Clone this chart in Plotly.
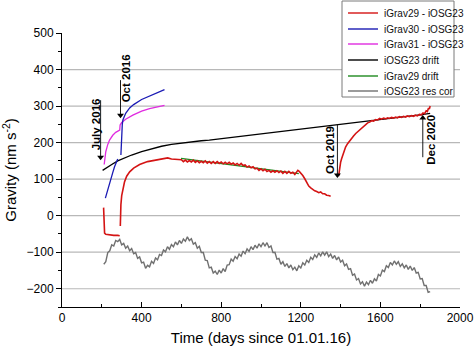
import plotly.graph_objects as go

# ---------------- data ----------------
names = ["iGrav29 - iOSG23", "iGrav30 - iOSG23", "iGrav31 - iOSG23",
         "iOSG23 drift", "iGrav29 drift", "iOSG23 res cor"]
colors = ["#d41414", "#1a1ab4", "#e02be0", "#000000", "#1f8a1f", "#707070"]

# iGrav29 - iOSG23 (three segments, None separates)
red_days = [209, 210, 211, 212, 214, 220, 240, 260, 280, 290, None,
            293, 294, 296, 300, 306, 314, 325, 340, 360, 390, 430, 473, 500, 531, 550, 570, 590,
            600, 610, 620, 630, 640, 650, 660, 670, 680, 690, 700, 710, 720, 730, 740, 750,
            760, 770, 780, 790, 800, 810, 820, 830, 840, 850, 860, 870, 880, 890, 900, 910,
            920, 930, 940, 950, 960, 970, 980, 990, 1000, 1010, 1020, 1030, 1040, 1050, 1060,
            1070, 1080, 1090, 1100, 1110, 1120, 1130, 1140, 1150, 1160, 1170, 1180, 1185, 1192,
            1200, 1210, 1220, 1230, 1240, 1250, 1260, 1270, 1280, 1290, 1300, 1310, 1320, 1330,
            1340, 1350, None,
            1390, 1392, 1395, 1400, 1405, 1410, 1417, 1425, 1435, 1445, 1455, 1465, 1476, 1486,
            1496, 1506, 1516, 1526, 1536, 1546, 1556, 1566, 1576, 1586, 1596, 1606, 1616, 1626,
            1636, 1646, 1656, 1666, 1676, 1686, 1696, 1706, 1716, 1726, 1736, 1746, 1756, 1766,
            1776, 1786, 1796, 1806, 1814, 1822, 1830, 1836, 1842, 1846, 1850]
red_vals = [22, 5, -20, -40, -48, -51, -53, -54, -54, -55, None,
            -28, 0, 30, 55, 75, 92, 108, 120, 130, 140, 148, 153, 156, 158, 155, 154, 152,
            153, 148, 152, 147, 151, 147, 152, 146, 150, 145, 149, 145, 150, 144, 148, 143,
            148, 143, 148, 143, 147, 142, 146, 142, 146, 141, 144, 139, 143, 138, 143, 137,
            139, 133, 136, 131, 134, 128, 130, 124, 128, 123, 127, 121, 124, 119, 123,
            119, 123, 118, 122, 116, 121, 116, 121, 116, 119, 113, 120, 124, 121,
            117, 110, 101, 92, 81, 76, 71, 68, 66, 63, 65, 60, 60, 56,
            55, 53, None,
            108, 118, 132, 146, 156, 165, 178, 188, 197, 205, 212, 218, 225, 230,
            236, 241, 245, 250, 254, 256, 260, 259, 263, 262, 266, 264, 267, 265,
            268, 266, 269, 267, 270, 268, 271, 269, 272, 270, 273, 271, 274, 272,
            275, 273, 277, 276, 281, 279, 287, 285, 295, 292, 300]

# iGrav30 - iOSG23
blue_days = [218, 222, 230, 244, 255, 264, 272, 280, None,
             296, 298, 300, 303, 306, 320, 340, 360, 400, 440, 480, 515]
blue_vals = [48, 56, 75, 99, 118, 134, 146, 155, None,
             166, 200, 230, 250, 262, 280, 295, 304, 318, 327, 337, 345]

# iGrav31 - iOSG23
mag_days = [212, 215, 220, 230, 239, 255, 270, 290, 292, 300, 320, 356, 400, 440, 480, 515]
mag_vals = [140, 157, 175, 195, 207, 220, 228, 234, 248, 255, 264, 275, 286, 293, 298, 302]

# iOSG23 drift
blk_days = [204, 220, 250, 280, 307, 350, 400, 450, 500, 550, 600, 650, 700, 740, 800,
            890, 1000, 1100, 1200, 1300, 1382, 1500, 1600, 1700, 1800, 1850]
blk_vals = [124, 130, 140, 150, 157, 166, 175, 183, 190, 195, 199, 202, 205, 207, 211,
            216, 224, 231, 238, 245, 250, 257, 264, 270, 276, 280]

# iGrav29 drift
grn_days = [598, 1190]
grn_vals = [157, 115]

# iOSG23 res cor
gray_days = [210, 220, 230, 240, 250, 260, 270, 280, 290, 300, 310, 320, 330, 340, 350,
             360, 370, 380, 390, 400, 410, 420, 430, 440, 450, 460, 470, 480, 490, 500,
             510, 520, 530, 540, 550, 560, 570, 580, 590, 600, 610, 620, 630, 640, 650,
             660, 670, 680, 690, 700, 710, 720, 730, 740, 750, 760, 770, 780, 790, 800,
             810, 820, 830, 840, 850, 860, 870, 880, 890, 900, 910, 920, 930, 940, 950,
             960, 970, 980, 990, 1000, 1010, 1020, 1030, 1040, 1050, 1060, 1070, 1080, 1090,
             1100, 1110, 1120, 1130, 1140, 1150, 1160, 1170, 1180, 1190, 1200, 1210, 1220,
             1230, 1240, 1250, 1260, 1270, 1280, 1290, 1300, 1310, 1320, 1330, 1340, 1350,
             1360, 1370, 1380, 1390, 1400, 1410, 1420, 1430, 1440, 1450, 1460, 1470, 1480,
             1490, 1500, 1510, 1520, 1530, 1540, 1550, 1560, 1570, 1580, 1590, 1600, 1610,
             1620, 1630, 1640, 1650, 1660, 1670, 1680, 1690, 1700, 1710, 1720, 1730, 1740,
             1750, 1760, 1770, 1780, 1790, 1800, 1810, 1820, 1830, 1840, 1850]
gray_vals = [-133, -126, -101, -96, -80, -83, -68, -71, -65, -80, -76, -89, -83, -96, -90,
             -104, -101, -117, -113, -129, -127, -144, -136, -140, -125, -131, -116, -121, -106, -109,
             -94, -99, -85, -92, -79, -85, -72, -80, -68, -76, -64, -70, -58, -68, -63,
             -78, -74, -89, -84, -101, -101, -122, -123, -143, -141, -157, -152, -161, -149, -157,
             -145, -153, -135, -134, -119, -125, -112, -118, -105, -111, -97, -104, -91, -98, -85,
             -93, -81, -89, -77, -85, -74, -83, -74, -87, -83, -101, -100, -119, -117,
             -133, -126, -139, -131, -143, -135, -148, -141, -151, -137, -143, -129, -135,
             -122, -128, -114, -120, -107, -114, -102, -110, -99, -108, -99, -112, -105,
             -117, -109, -121, -113, -127, -122, -137, -132, -147, -145, -163, -160, -176,
             -172, -187, -181, -193, -182, -189, -177, -185, -173, -179, -161, -165, -149,
             -153, -137, -142, -128, -135, -124, -133, -126, -139, -132, -143, -135, -147,
             -138, -150, -142, -157, -155, -173, -172, -191, -191, -210, -208]

# annotations: (label, text x, text y, arrow x, tip y, tail y)
events = [("July 2016", 171, 250, 194, 160, 316),
          ("Oct 2016", 320, 375, 294, 275, 371),
          ("Oct 2019", 1347, 180, 1384, 111, 248),
          ("Dec 2020", 1853, 207, 1813, 267, 160)]

y_grid = [-200, -100, 0, 100, 200, 300, 400]

# ---------------- figure ----------------
FONT = "Liberation Sans, Arial, sans-serif"
W, H = 474, 353
ML, MR, MT, MB = 62, 14, 33, 46
PW, PH = W - ML - MR, H - MT - MB

series = [(red_days, red_vals, 1.6), (blue_days, blue_vals, 1.3), (mag_days, mag_vals, 1.3),
          (blk_days, blk_vals, 1.3), (grn_days, grn_vals, 1.3), (gray_days, gray_vals, 1.4)]

fig = go.Figure()
for idx in [5, 3, 2, 1, 4, 0]:
    xs, ys, lw = series[idx]
    fig.add_trace(go.Scatter(x=xs, y=ys, mode="lines", name=names[idx],
                             line=dict(color=colors[idx], width=lw),
                             connectgaps=False, showlegend=False, hoverinfo="skip"))

annotations = []
for lab, tx, ty, ax_, tip, tail in events:
    annotations.append(dict(x=tx, y=ty, xref="x", yref="y", text="<b>%s</b>" % lab,
                            textangle=-90, showarrow=False,
                            font=dict(family=FONT, size=11.5, color="black")))
    fig.add_trace(go.Scatter(x=[ax_, ax_], y=[tail, tip], mode="lines",
                             line=dict(color="black", width=0.9),
                             showlegend=False, hoverinfo="skip"))
    fig.add_trace(go.Scatter(x=[ax_], y=[tip], mode="markers",
                             marker=dict(symbol="triangle-down" if tip < tail else "triangle-up",
                                         size=6, color="black", line=dict(width=0)),
                             showlegend=False, hoverinfo="skip"))

def px(xp):
    return (xp - ML) / PW

def py(yp):
    return (H - MB - yp) / PH

shapes = []
for g in y_grid:
    shapes.append(dict(type="line", xref="x", yref="y", x0=0, x1=2000, y0=g, y1=g,
                       line=dict(color="#b8b8b8", width=1.2), layer="below", opacity=1))
shapes.append(dict(type="rect", xref="paper", yref="paper", x0=px(342), x1=px(454),
                   y0=py(97), y1=py(1), line=dict(color="#7a7a7a", width=1),
                   fillcolor="white", layer="above", opacity=1))
item_y = [13, 29, 44, 60, 76, 91]
for i, nm in enumerate(names):
    shapes.append(dict(type="line", xref="paper", yref="paper", x0=px(348), x1=px(378),
                       y0=py(item_y[i]), y1=py(item_y[i]),
                       line=dict(color=colors[i], width=1.4), layer="above", opacity=1))
    annotations.append(dict(x=px(382), y=py(item_y[i]), xref="paper", yref="paper",
                            text=nm, showarrow=False, xanchor="left", yanchor="middle",
                            font=dict(family=FONT, size=10, color="#111111")))

fig.update_layout(
    template="none",
    width=W, height=H, margin=dict(l=ML, r=MR, t=MT, b=MB, pad=0),
    paper_bgcolor="white", plot_bgcolor="white",
    font=dict(family=FONT, size=12, color="black"),
    annotations=annotations, shapes=shapes, showlegend=False,
    xaxis=dict(range=[0, 2000], tickmode="linear", tick0=0, dtick=400,
               ticks="inside", ticklen=5, tickwidth=1,
               tickcolor="black", showline=True, linecolor="black", linewidth=1,
               showgrid=False, zeroline=False, mirror=False,
               tickfont=dict(family=FONT, size=12),
               minor=dict(dtick=200, ticks="inside", ticklen=3, tickcolor="black", showgrid=False),
               title=dict(text="Time (days since 01.01.16)", standoff=8,
                          font=dict(family=FONT, size=15))),
    yaxis=dict(range=[-250, 500], tickmode="linear", tick0=0, dtick=100,
               ticks="outside", ticklen=5, tickwidth=1,
               tickcolor="black", showline=True, linecolor="black", linewidth=1,
               showgrid=False, zeroline=False, mirror=False,
               tickfont=dict(family=FONT, size=12),
               minor=dict(dtick=50, ticks="outside", ticklen=3, tickcolor="black", showgrid=False),
               title=dict(text="Gravity (nm s<sup>-2</sup>)", standoff=8,
                          font=dict(family=FONT, size=15))),
)

fig.write_html("out.html")
